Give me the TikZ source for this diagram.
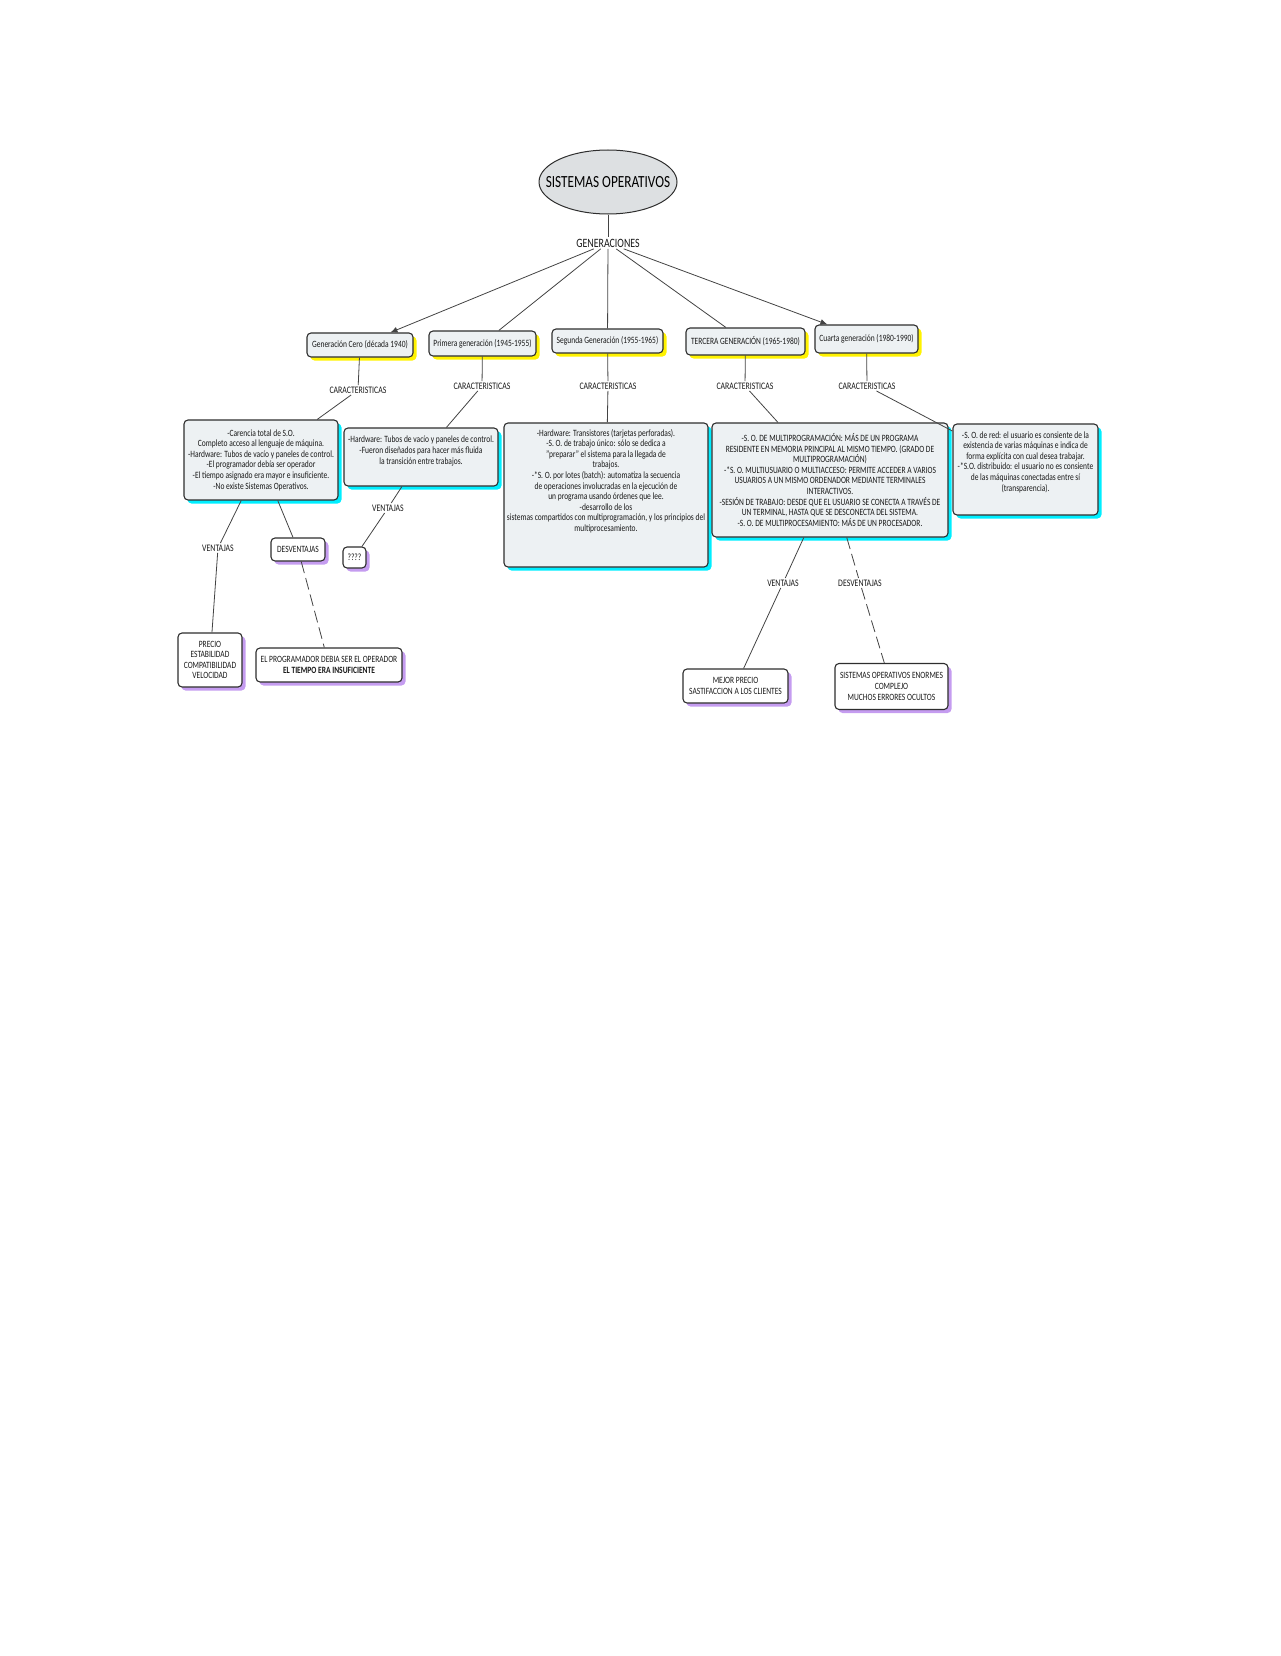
\documentclass[tikz,border=0pt]{standalone}
\usepackage{fontspec}
\setmainfont{Carlito}[FakeStretch=0.78]
\usetikzlibrary{arrows.meta,shapes.geometric,shadows}
\definecolor{boxfill}{HTML}{EDF1F3}
\definecolor{boxline}{HTML}{2E2E2E}
\definecolor{shyellow}{HTML}{FFF200}
\definecolor{shcyan}{HTML}{00EEFF}
\definecolor{shviolet}{HTML}{C59CF0}
\newcommand{\fMain}{\fontsize{17}{19}\selectfont}
\newcommand{\fGen}{\fontsize{12.7}{14}\selectfont}
\newcommand{\fTitle}{\fontsize{9.6}{11}\selectfont}
\newcommand{\fDesc}{\fontsize{9.6}{10.6}\selectfont}
\newcommand{\fLabel}{\fontsize{10}{11}\selectfont}
\tikzset{%
  >={Latex[width=6pt,length=7pt]},
  % Specifications for style of nodes:
            base/.style = {rectangle, rounded corners=4pt, draw=boxline,
                           line width=1.1pt, fill=boxfill, text=black!90,
                           align=center, inner sep=2pt},
  sysnode/.style = {ellipse, draw=boxline, line width=1pt, fill=boxfill!85!gray,
                    minimum width=138pt, minimum height=64pt, inner xsep=-17pt, inner ysep=0pt, font=\fMain},
  genbox/.style  = {base, font=\fTitle, drop shadow={shadow xshift=3.5pt, shadow yshift=-3.5pt, fill=shyellow, opacity=1}},
  descbox/.style = {base, font=\fDesc, drop shadow={shadow xshift=3.5pt, shadow yshift=-3.5pt, fill=shcyan, opacity=1}},
  leafbox/.style = {base, fill=white, font=\fDesc, drop shadow={shadow xshift=3.5pt, shadow yshift=-3.5pt, fill=shviolet, opacity=1}},
  void/.style    = {rectangle, inner sep=1.5pt, font=\fLabel, text=black!90},
  conn/.style    = {draw=boxline!90, line width=0.8pt},
  dconn/.style   = {conn, dash pattern=on 12pt off 5pt},
}

\begin{document}
\begin{tikzpicture}[x=1pt, y=-1pt]
  \useasboundingbox (0,0) rectangle (1280,1656);

  % Specification of nodes (position, etc.)
  \node (onSistemas)     [sysnode]                    at (608,182) {SISTEMAS OPERATIVOS};
  \node (onGeneraciones) [void, font=\fGen]           at (608,243)   {GENERACIONES};

  \node (onCero)    [genbox, minimum width=106pt, minimum height=24pt] at (360,345)   {Generación Cero (década 1940)};
  \node (onPrimera) [genbox, minimum width=107pt, minimum height=25pt] at (482.5,343.5) {Primera generación (1945-1955)};
  \node (onSegunda) [genbox, minimum width=111pt, minimum height=24pt] at (607.5,341) {Segunda Generación (1955-1965)};
  \node (onTercera) [genbox, minimum width=119pt, minimum height=27pt] at (745.5,341.5) {TERCERA GENERACIÓN (1965-1980)};
  \node (onCuarta)  [genbox, minimum width=103pt, minimum height=28pt] at (866.5,339) {Cuarta generación (1980-1990)};

  \node (onCarCero) [void] at (358,390) {CARACTERISTICAS};
  \node (onCarPrim) [void] at (482,386) {CARACTERISTICAS};
  \node (onCarSeg)  [void] at (608,386) {CARACTERISTICAS};
  \node (onCarTerc) [void] at (745,386) {CARACTERISTICAS};
  \node (onCarCuar) [void] at (867,386) {CARACTERISTICAS};

  \node (onDescCero) [descbox, minimum width=154pt, minimum height=80pt] at (261,460)
    {-Carencia total de S.O.\\Completo acceso al lenguaje de máquina.\\-Hardware: Tubos de vacío y paneles de control.\\-El programador debía ser operador\\-El tiempo asignado era mayor e insuficiente.\\-No existe Sistemas Operativos.};
  \node (onDescPrim) [descbox, minimum width=154pt, minimum height=58pt] at (421,457)
    {-Hardware: Tubos de vacío y paneles de control.\\-Fueron diseñados para hacer más fluida\\la transición entre trabajos.\\[3pt]\mbox{}};
  \node (onDescSeg)  [descbox, minimum width=204pt, minimum height=144pt] at (606,495)
    {-Hardware: Transistores (tarjetas perforadas).\\-S. O. de trabajo único: sólo se dedica a\\"preparar" el sistema para la llegada de\\trabajos.\\-*S. O. por lotes (batch): automatiza la secuencia\\de operaciones involucradas en la ejecución de\\un programa usando órdenes que lee.\\-desarrollo de los\\sistemas compartidos con multiprogramación, y los principios del\\multiprocesamiento.\\[19pt]\mbox{}};
  \node (onDescTerc) [descbox, minimum width=236pt, minimum height=114pt] at (830,480)
    {-S. O. DE MULTIPROGRAMACIÓN: MÁS DE UN PROGRAMA\\RESIDENTE EN MEMORIA PRINCIPAL AL MISMO TIEMPO. (GRADO DE\\MULTIPROGRAMACIÓN)\\-*S. O. MULTIUSUARIO O MULTIACCESO: PERMITE ACCEDER A VARIOS\\USUARIOS A UN MISMO ORDENADOR MEDIANTE TERMINALES\\INTERACTIVOS.\\-SESIÓN DE TRABAJO: DESDE QUE EL USUARIO SE CONECTA A TRAVÉS DE\\UN TERMINAL, HASTA QUE SE DESCONECTA DEL SISTEMA.\\-S. O. DE MULTIPROCESAMIENTO: MÁS DE UN PROCESADOR.};
  \node (onDescCuar) [descbox, minimum width=145pt, minimum height=91pt] at (1025.5,469.5)
    {-S. O. de red: el usuario es consiente de la\\existencia de varias máquinas e indica de\\forma explícita con cual desea trabajar.\\-*S.O. distribuido: el usuario no es consiente\\de las máquinas conectadas entre sí\\(transparencia).\\[6pt]\mbox{}};

  \node (onVentCero) [void] at (218,548) {VENTAJAS};
  \node (onDesvCero) [leafbox, minimum width=54pt, minimum height=23pt] at (298,549.5) {DESVENTAJAS};
  \node (onLeafCeroA) [leafbox, minimum width=64pt, minimum height=54pt] at (210,660)
    {PRECIO\\ESTABILIDAD\\COMPATIBILIDAD\\VELOCIDAD};
  \node (onLeafCeroB) [leafbox, minimum width=146pt, minimum height=34pt] at (329,665)
    {EL PROGRAMADOR DEBIA SER EL OPERADOR\\\textbf{EL TIEMPO ERA INSUFICIENTE}};

  \node (onVentPrim) [void] at (388,508) {VENTAJAS};
  \node (onLeafPrim) [leafbox, minimum width=23pt, minimum height=21pt] at (354.5,557.5) {????};

  \node (onVentTerc) [void] at (783,583) {VENTAJAS};
  \node (onDesvTerc) [void] at (860,583) {DESVENTAJAS};
  \node (onLeafTercA) [leafbox, minimum width=105pt, minimum height=34pt] at (735.5,686)
    {MEJOR PRECIO\\SASTIFACCION A LOS CLIENTES};
  \node (onLeafTercB) [leafbox, minimum width=113pt, minimum height=46pt] at (891.5,686.5)
    {SISTEMAS OPERATIVOS ENORMES\\COMPLEJO\\MUCHOS ERRORES OCULTOS};

  % Specification of lines between nodes specified above
  \draw[conn]    (onSistemas) -- (onGeneraciones);
  \draw[conn,->] (onGeneraciones) -- (onCero);
  \draw[conn]    (onGeneraciones) -- (onPrimera);
  \draw[conn]    (onGeneraciones) -- (onSegunda);
  \draw[conn]    (onGeneraciones) -- (onTercera);
  \draw[conn,->] (onGeneraciones) -- (onCuarta);

  \draw[conn] (onCero) -- (onCarCero) -- (onDescCero);
  \draw[conn] (onPrimera) -- (onCarPrim) -- (onDescPrim);
  \draw[conn] (onSegunda) -- (onCarSeg) -- (onDescSeg);
  \draw[conn] (onTercera) -- (onCarTerc) -- (onDescTerc);
  \draw[conn] (onCuarta) -- (onCarCuar) -- (onDescCuar);

  \draw[conn]  (onDescCero) -- (onVentCero) -- (onLeafCeroA);
  \draw[conn]  (onDescCero) -- (onDesvCero);
  \draw[dconn] (onDesvCero) -- (onLeafCeroB);
  \draw[conn]  (onDescPrim) -- (onVentPrim) -- (onLeafPrim);
  \draw[conn]  (onDescTerc) -- (onVentTerc) -- (onLeafTercA);
  \draw[dconn] (onDescTerc) -- (onDesvTerc) -- (onLeafTercB);
\end{tikzpicture}
\end{document}
